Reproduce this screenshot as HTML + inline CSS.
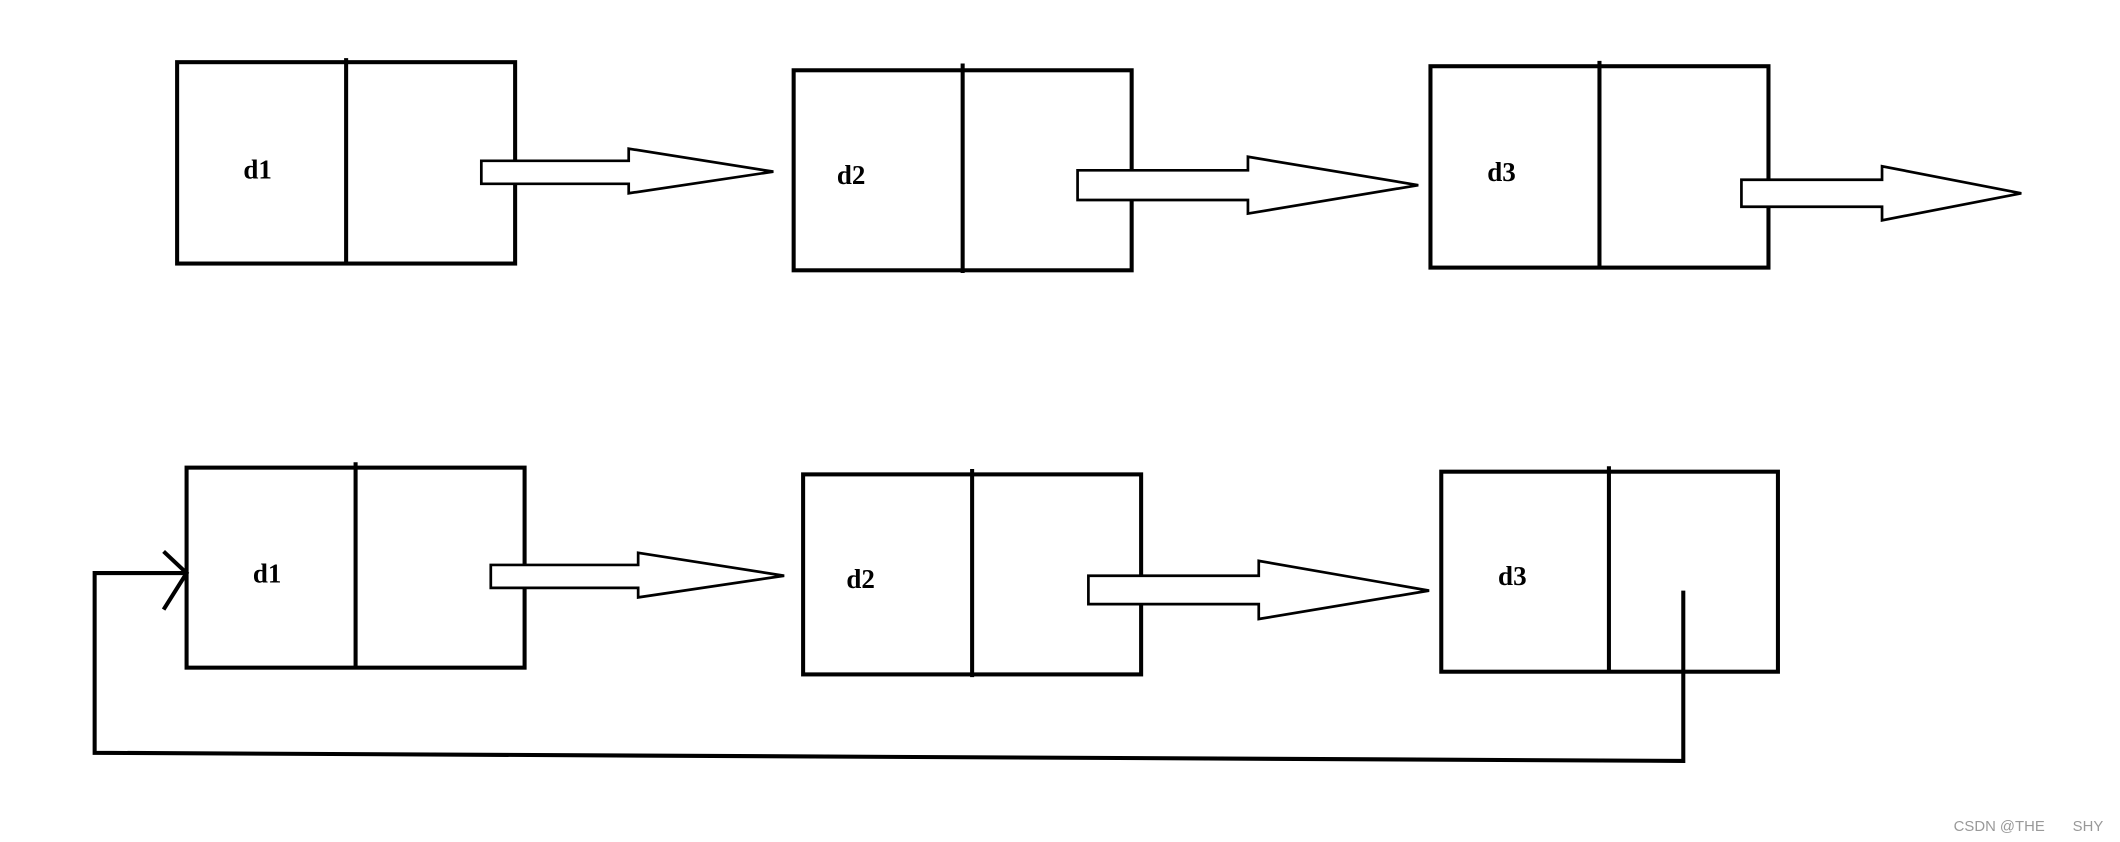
<!DOCTYPE html>
<html><head><style>html,body{margin:0;padding:0;background:#fff;}svg{display:block}</style></head>
<body>
<svg width="2120" height="842" viewBox="0 0 1568 623" preserveAspectRatio="none" xmlns="http://www.w3.org/2000/svg">
<rect width="1568" height="623" fill="#fff"/>
<g fill="none" stroke="#000" stroke-width="3">
<rect x="131" y="46" width="250" height="149"/><line x1="256" y1="43" x2="256" y2="196"/>
<rect x="587" y="52" width="250" height="148"/><line x1="712" y1="47" x2="712" y2="202"/>
<rect x="1058" y="49" width="250" height="149"/><line x1="1183" y1="45" x2="1183" y2="199"/>
<rect x="138" y="346" width="250" height="148"/><line x1="263" y1="342" x2="263" y2="495"/>
<rect x="594" y="351" width="250" height="148"/><line x1="719" y1="347" x2="719" y2="501"/>
<rect x="1066" y="349" width="249" height="148"/><line x1="1190" y1="345" x2="1190" y2="498"/>
<polyline points="1245,437 1245,563 70,557 70,424 138,424"/>
<polyline points="121,408 138,424 121,451"/>
</g>
<g fill="#fff" stroke="#000" stroke-width="2">
<polygon points="356,119 465,119 465,110 572,127 465,143 465,136 356,136"/>
<polygon points="797,126 923,126 923,116 1049,137 923,158 923,148 797,148"/>
<polygon points="1288,133 1392,133 1392,123 1495,143 1392,163 1392,153 1288,153"/>
<polygon points="363,418 472,418 472,409 580,426 472,442 472,435 363,435"/>
<polygon points="805,426 931,426 931,415 1057,437 931,458 931,447 805,447"/>
</g>
<g font-family="Liberation Serif, serif" font-weight="bold" font-size="20" fill="#000">
<text x="180" y="132">d1</text><text x="619" y="136">d2</text><text x="1100" y="134">d3</text>
<text x="187" y="431">d1</text><text x="626" y="435">d2</text><text x="1108" y="433">d3</text>
</g>
<text x="1445" y="615" font-family="Liberation Sans, sans-serif" font-size="11" fill="#999">CSDN @THE</text>
<text x="1533" y="615" font-family="Liberation Sans, sans-serif" font-size="11" fill="#999">SHY</text>
</svg>
</body></html>
